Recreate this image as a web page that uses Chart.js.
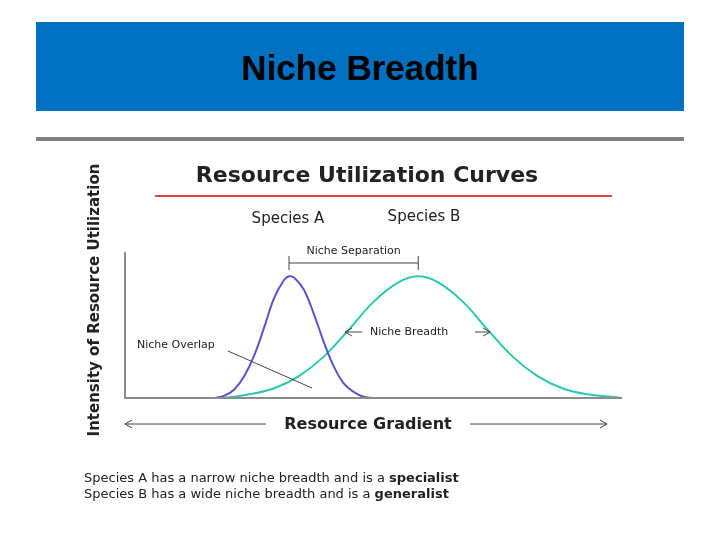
<!DOCTYPE html>
<html>
<head>
<meta charset="utf-8">
<script src="https://cdn.jsdelivr.net/npm/chart.js@4/dist/chart.umd.min.js"></script>
<style>
  body { margin: 0; width: 720px; height: 540px; background: #fff; position: relative; overflow: hidden; }
  #header { position: absolute; left: 36px; top: 22px; width: 648px; height: 89px; background: #0070C0;
    font: bold 35px "Liberation Sans", Arial, sans-serif; color: #000; text-align: center; line-height: 92px; }
  #rule { position: absolute; left: 36px; top: 137px; width: 648px; height: 4px; background: #7f7f7f; }
  #chart { position: absolute; left: 0; top: 0; }
</style>
</head>
<body>
<div id="header">Niche Breadth</div>
<div id="rule"></div>
<canvas id="chart" width="720" height="540"></canvas>
<script>
// Resource gradient position (0-100) and utilization intensity
const speciesA = [
  [18, 0], [20, 0.02], [22, 0.07], [24, 0.18], [26, 0.35], [28, 0.58], [30, 0.82], [32, 0.97],
  [33, 1.0], [34, 0.99], [36, 0.89], [38, 0.69], [40, 0.46], [42, 0.26], [44, 0.12], [46, 0.05],
  [48, 0.01], [50, 0],
];
const speciesB = [
  [19, 0], [22, 0.01], [25, 0.03], [30, 0.08], [35, 0.18], [40, 0.34], [45, 0.56], [50, 0.79],
  [55, 0.95], [59, 1.0], [63, 0.95], [68, 0.79], [73, 0.56], [78, 0.34], [83, 0.18], [88, 0.08],
  [93, 0.03], [98, 0.01], [100, 0],
];
const FONT = '"DejaVu Sans", sans-serif';

function arrowHead(ctx, x, y, dir) {
  ctx.beginPath();
  ctx.moveTo(x + dir * 7, y - 4);
  ctx.lineTo(x, y);
  ctx.lineTo(x + dir * 7, y + 4);
  ctx.stroke();
}

const decorations = {
  id: "decorations",
  afterDraw(chart) {
    const { ctx, chartArea: a, scales } = chart;
    const xs = scales.x;
    ctx.save();
    // axes
    ctx.strokeStyle = "#8c8c8c";
    ctx.lineWidth = 2;
    ctx.beginPath();
    ctx.moveTo(a.left, a.top);
    ctx.lineTo(a.left, a.bottom);
    ctx.lineTo(a.right, a.bottom);
    ctx.stroke();

    // title
    ctx.fillStyle = "#222";
    ctx.textAlign = "center";
    ctx.textBaseline = "middle";
    ctx.font = "bold 22px " + FONT;
    ctx.fillText("Resource Utilization Curves", 367, 176);
    ctx.strokeStyle = "#e04040";
    ctx.lineWidth = 2;
    ctx.beginPath(); ctx.moveTo(155, 196); ctx.lineTo(612, 196); ctx.stroke();

    // y title
    ctx.save();
    ctx.translate(95, 300);
    ctx.rotate(-Math.PI / 2);
    ctx.font = "bold 15px " + FONT;
    ctx.fillText("Intensity of Resource Utilization", 0, 0);
    ctx.restore();

    ctx.font = "15px " + FONT;
    ctx.fillText("Species A", 288, 219);
    ctx.fillText("Species B", 424, 217);

    // niche separation bracket
    const pA = xs.getPixelForValue(33), pB = xs.getPixelForValue(59);
    ctx.strokeStyle = "#444"; ctx.lineWidth = 1;
    ctx.beginPath();
    ctx.moveTo(pA, 256); ctx.lineTo(pA, 270);
    ctx.moveTo(pA, 263); ctx.lineTo(pB, 263);
    ctx.moveTo(pB, 256); ctx.lineTo(pB, 270);
    ctx.stroke();
    ctx.font = "11px " + FONT;
    ctx.fillText("Niche Separation", (pA + pB) / 2, 251);

    // niche overlap
    ctx.textAlign = "left";
    ctx.fillText("Niche Overlap", 137, 345);
    ctx.beginPath(); ctx.moveTo(228, 351); ctx.lineTo(312, 388); ctx.stroke();

    // niche breadth
    ctx.fillText("Niche Breadth", 370, 332);
    ctx.beginPath();
    ctx.moveTo(345, 332); ctx.lineTo(362, 332);
    ctx.moveTo(475, 332); ctx.lineTo(490, 332);
    ctx.stroke();
    arrowHead(ctx, 345, 332, 1);
    arrowHead(ctx, 490, 332, -1);

    // resource gradient
    ctx.textAlign = "center";
    ctx.font = "bold 16px " + FONT;
    ctx.fillText("Resource Gradient", 368, 425);
    ctx.beginPath();
    ctx.moveTo(125, 424); ctx.lineTo(266, 424);
    ctx.moveTo(470, 424); ctx.lineTo(607, 424);
    ctx.stroke();
    arrowHead(ctx, 125, 424, 1);
    arrowHead(ctx, 607, 424, -1);

    // footer
    ctx.textAlign = "left";
    const lines = [
      ["Species A has a narrow niche breadth and is a ", "specialist", 479],
      ["Species B has a wide niche breadth and is a ", "generalist", 495],
    ];
    lines.forEach(([plain, bold, y]) => {
      ctx.font = "13px " + FONT;
      ctx.fillText(plain, 84, y);
      const w = ctx.measureText(plain).width;
      ctx.font = "bold 13px " + FONT;
      ctx.fillText(bold, 84 + w, y);
    });
    ctx.restore();
  },
};

new Chart(document.getElementById("chart"), {
  type: "line",
  data: {
    datasets: [
      { label: "Species A", data: speciesA.map(([x, y]) => ({ x, y })), borderColor: "#5656c8", borderWidth: 2, tension: 0.4, pointRadius: 0, fill: false },
      { label: "Species B", data: speciesB.map(([x, y]) => ({ x, y })), borderColor: "#2cc7b2", borderWidth: 2, tension: 0.4, pointRadius: 0, fill: false },
    ],
  },
  options: {
    responsive: false,
    animation: false,
    layout: { padding: { left: 125, right: 98, top: 252, bottom: 142 } },
    scales: {
      x: { type: "linear", min: 0, max: 100, display: false },
      y: { min: 0, max: 1.2, display: false },
    },
    plugins: { legend: { display: false }, tooltip: { enabled: false } },
  },
  plugins: [decorations],
});
</script>
</body>
</html>
